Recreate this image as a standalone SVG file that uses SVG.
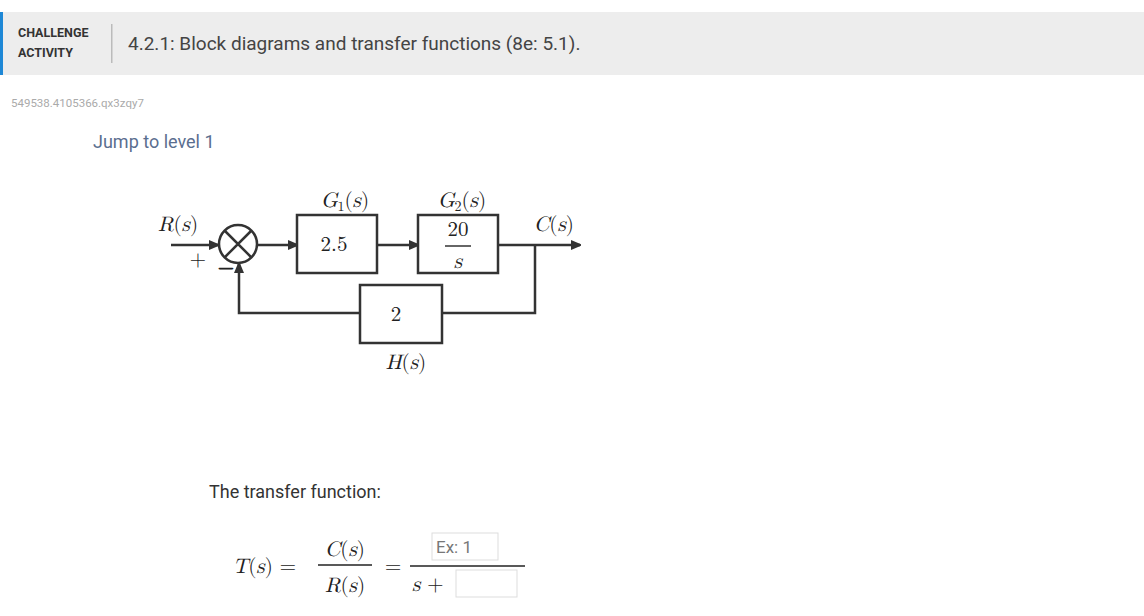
<svg xmlns="http://www.w3.org/2000/svg" width="1144" height="616" viewBox="0 0 1144 616">
<style>
.m{font-family:"Latin Modern Math","DejaVu Serif","Liberation Serif",serif;font-size:21px;fill:#222}
.i{font-style:italic}
.u{font-family:Roboto,"Liberation Sans",sans-serif}
.b{fill:#fff;stroke:#333;stroke-width:2.5}
.l{fill:none;stroke:#333;stroke-width:2.5}
</style>
<defs><marker id="a" markerWidth="10" markerHeight="10" refX="9" refY="5" orient="auto" markerUnits="userSpaceOnUse"><path d="M0,0 L12,5 L0,10Z" fill="#333"/></marker></defs>
<rect width="1144" height="616" fill="#fff"/>
<rect x="0" y="12" width="1144" height="63" fill="#ededed"/>
<rect x="0" y="12" width="3" height="63" fill="#1e88d6"/>
<rect x="111" y="24" width="1.5" height="39" fill="#bbb"/>
<text class="u" x="18" y="37" font-size="12.5" font-weight="bold" fill="#333">CHALLENGE</text>
<text class="u" x="18" y="57" font-size="12.5" font-weight="bold" fill="#333">ACTIVITY</text>
<text class="u" x="128" y="50" font-size="19" fill="#444">4.2.1: Block diagrams and transfer functions (8e: 5.1).</text>
<text class="u" x="11" y="107" font-size="11.5" fill="#aaa">549538.4105366.qx3zqy7</text>
<text class="u" x="93" y="148" font-size="18" fill="#5a6e8f">Jump to level 1</text>
<g id="connectors">
<path class="l" d="M171,245 H218" marker-end="url(#a)"/>
<path class="l" d="M257,245 H297" marker-end="url(#a)"/>
<path class="l" d="M377,245 H418" marker-end="url(#a)"/>
<path class="l" d="M498,245 H580" marker-end="url(#a)"/>
<path class="l" d="M535,245 V313 H442"/>
<path class="l" d="M360,313 H239 V264" marker-end="url(#a)"/>
</g>
<g id="sum"><circle class="b" cx="238" cy="244" r="19"/><path class="l" d="M225,231 L251,257 M251,231 L225,257"/></g>
<g id="G1"><rect class="b" x="297" y="215" width="80" height="58"/><text class="m" x="334" y="251" text-anchor="middle">2.5</text><text class="m" x="345" y="207" text-anchor="middle"><tspan class="i">G</tspan><tspan font-size="14" dy="4">1</tspan><tspan dy="-4">(</tspan><tspan class="i">s</tspan>)</text></g>
<g id="G2"><rect class="b" x="418" y="215" width="80" height="58"/><text class="m" x="458" y="236" text-anchor="middle" font-size="19">20</text><line x1="445" y1="246" x2="471" y2="246" stroke="#333" stroke-width="1.5"/><text class="m i" x="458" y="268" text-anchor="middle" font-size="19">s</text><text class="m" x="462" y="207" text-anchor="middle"><tspan class="i">G</tspan><tspan font-size="14" dy="4">2</tspan><tspan dy="-4">(</tspan><tspan class="i">s</tspan>)</text></g>
<g id="H"><rect class="b" x="360" y="285" width="82" height="58"/><text class="m" x="396" y="321" text-anchor="middle">2</text><text class="m" x="406" y="369" text-anchor="middle"><tspan class="i">H</tspan>(<tspan class="i">s</tspan>)</text></g>
<text class="m" x="178" y="231" text-anchor="middle"><tspan class="i">R</tspan>(<tspan class="i">s</tspan>)</text>
<text class="m" x="554" y="231" text-anchor="middle"><tspan class="i">C</tspan>(<tspan class="i">s</tspan>)</text>
<text class="m" x="198" y="266" text-anchor="middle" font-size="17" fill="#666">+</text>
<text class="m" x="226" y="274" text-anchor="middle" font-weight="bold">−</text>
<text class="u" x="209" y="498" font-size="18" fill="#333">The transfer function:</text>
<text class="m" x="233" y="573" font-size="23"><tspan class="i">T</tspan>(<tspan class="i">s</tspan>) =</text>
<text class="m" x="345" y="556" text-anchor="middle" font-size="23"><tspan class="i">C</tspan>(<tspan class="i">s</tspan>)</text>
<line x1="318" y1="565" x2="372" y2="565" stroke="#222" stroke-width="1.5"/>
<text class="m" x="345" y="592" text-anchor="middle" font-size="23"><tspan class="i">R</tspan>(<tspan class="i">s</tspan>)</text>
<text class="m" x="385" y="573" font-size="23">=</text>
<line x1="410" y1="566" x2="525" y2="566" stroke="#222" stroke-width="1.5"/>
<rect x="432" y="533" width="66" height="27" fill="#fff" stroke="#ddd"/>
<text class="u" x="436" y="553" font-size="17" fill="#777">Ex: 1</text>
<text class="m" x="412" y="591" font-size="23"><tspan class="i">s</tspan> +</text>
<rect x="456" y="570" width="61" height="27" fill="#fff" stroke="#ddd"/>
</svg>
